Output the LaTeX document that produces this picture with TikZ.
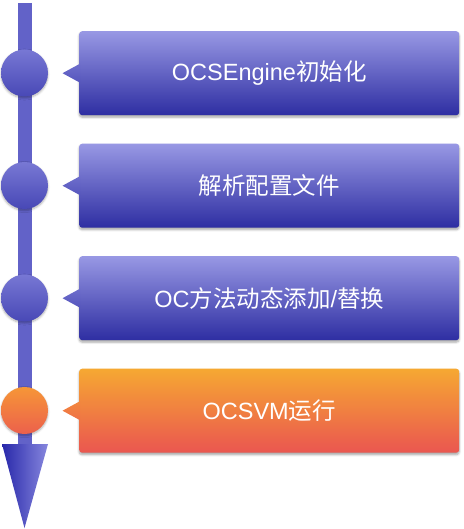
\documentclass[tikz,border=0pt]{standalone}
\usepackage{fontspec}
\setmainfont{Liberation Sans}
\newfontfamily\cjk{Noto Sans CJK SC}
\usetikzlibrary{shadows.blur}
\definecolor{bluetop}{RGB}{152,152,228}
\definecolor{bluebot}{RGB}{46,46,162}
\definecolor{bluemidA}{RGB}{110,110,204}
\definecolor{bluemidB}{RGB}{86,86,189}
\definecolor{ortop}{RGB}{246,168,50}
\definecolor{orbot}{RGB}{234,86,80}
\definecolor{ormidA}{RGB}{242,135,62}
\definecolor{ormidB}{RGB}{239,112,70}
\definecolor{barcol}{RGB}{98,98,200}
\definecolor{circtop}{RGB}{120,120,212}
\definecolor{circbot}{RGB}{72,72,182}
\definecolor{ocirctop}{RGB}{246,150,55}
\definecolor{ocircbot}{RGB}{236,96,76}
\definecolor{arrleft}{RGB}{40,40,170}
\definecolor{arrright}{RGB}{135,135,222}
\tikzset{
  stepbox/.style={rectangle, rounded corners=3pt, minimum width=380pt, minimum height=84pt,
    anchor=north west, inner sep=0pt,
    blur shadow={shadow xshift=0pt, shadow yshift=-2pt, shadow blur steps=6, shadow opacity=35}},
  bluebox/.style={stepbox, top color=bluetop, bottom color=bluebot},
  orangebox/.style={stepbox, top color=ortop, bottom color=orbot},
  label/.style={text=white, font=\fontsize{23.5}{28}\selectfont, inner sep=0pt},
  dot/.style={circle, minimum size=47pt, inner sep=0pt,
    blur shadow={shadow xshift=0pt, shadow yshift=-1.5pt, shadow blur steps=5, shadow opacity=30}},
  bluedot/.style={dot, top color=circtop, bottom color=circbot},
  orangedot/.style={dot, top color=ocirctop, bottom color=ocircbot},
}
\begin{document}
\begin{tikzpicture}[x=1pt,y=-1pt]
\useasboundingbox (0,0) rectangle (463,529);
% vertical bar
\coordinate (bartop) at (24.5,3);
\coordinate (barend) at (24.5,446);
\draw[barcol, line width=14pt] (bartop) -- (barend);
% arrow head
\coordinate (ahL) at (2,444);
\coordinate (ahR) at (48,444);
\coordinate (ahT) at (24.5,528);
\shade[left color=arrleft, right color=arrright] (ahL) -- (ahR) -- (ahT) -- cycle;
% boxes
\node[bluebox] (b1) at (79,31) {};
\node[bluebox] (b2) at (79,143.5) {};
\node[bluebox] (b3) at (79,256) {};
\node[orangebox] (b4) at (79,368.5) {};
\node[label] (t1) at (b1.center) {OCSEngine{\cjk 初始化}};
\node[label] (t2) at (b2.center) {\cjk 解析配置文件};
\node[label] (t3) at (b3.center) {OC{\cjk 方法动态添加}/{\cjk 替换}};
\node[label] (t4) at (b4.center) {OCSVM{\cjk 运行}};
% pointers
\foreach \b/\ca/\cb in {b1/bluemidA/bluemidB, b2/bluemidA/bluemidB, b3/bluemidA/bluemidB, b4/ormidA/ormidB}{
  \shade[top color=\ca, bottom color=\cb] ([xshift=1pt,yshift=9.5pt]\b.west) -- ([xshift=-16.5pt]\b.west) -- ([xshift=1pt,yshift=-9.5pt]\b.west) -- cycle;
}
% dots
\node[bluedot] (c1) at (24.5,73) {};
\node[bluedot] (c2) at (24.5,185.5) {};
\node[bluedot] (c3) at (24.5,298) {};
\node[orangedot] (c4) at (24.5,410.5) {};
\end{tikzpicture}
\end{document}
